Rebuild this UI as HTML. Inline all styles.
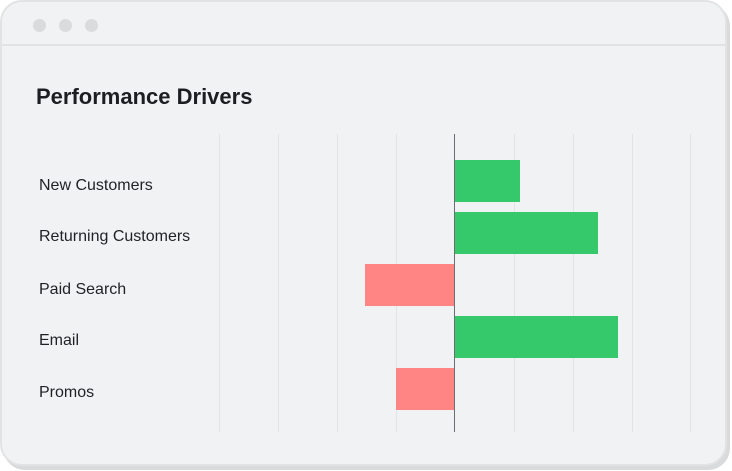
<!DOCTYPE html>
<html><head><style>
body{margin:0;width:732px;height:471px;background:#fff;overflow:hidden;font-family:"Liberation Sans",sans-serif}
.win{position:absolute;left:0;top:0;width:727px;height:466px;background:#f1f2f4;border:2px solid #e2e3e5;border-radius:22px;box-sizing:border-box;box-shadow:3px 4px 0 #d9dadc}
.dot{position:absolute;top:17px;width:13px;height:13px;border-radius:50%;background:#dadbdd}
.sep{position:absolute;left:0;right:0;top:42px;height:2px;background:#e1e2e4}
.t{position:absolute;left:36px;top:84px;font-size:22px;font-weight:bold;color:#1c1e22}
.l{position:absolute;left:39px;font-size:16px;color:#1f2125}
.g{position:absolute;top:134px;height:298px;width:1px;background:#e2e3e5}
.b{position:absolute;height:42px}
.gr{background:#35c96b}.rd{background:#ff8585}
</style></head><body>
<div class="win">
<div class="dot" style="left:31px"></div><div class="dot" style="left:57px"></div><div class="dot" style="left:83px"></div>
<div class="sep"></div>
</div>
<div class="t">Performance Drivers</div>
<div class="g" style="left:219px"></div><div class="g" style="left:278px"></div><div class="g" style="left:337px"></div><div class="g" style="left:396px"></div>
<div class="g" style="left:514px"></div><div class="g" style="left:573px"></div><div class="g" style="left:632px"></div><div class="g" style="left:690px"></div>
<div class="b gr" style="left:455px;width:65px;top:160px"></div>
<div class="b gr" style="left:455px;width:143px;top:212px"></div>
<div class="b rd" style="left:365px;width:90px;top:264px"></div>
<div class="b gr" style="left:455px;width:163px;top:316px"></div>
<div class="b rd" style="left:396px;width:59px;top:368px"></div>
<div class="g" style="left:454px;background:#6b6d70"></div>
<div class="l" style="top:177px">New Customers</div>
<div class="l" style="top:228px">Returning Customers</div>
<div class="l" style="top:281px">Paid Search</div>
<div class="l" style="top:332px">Email</div>
<div class="l" style="top:384px">Promos</div>
</body></html>
